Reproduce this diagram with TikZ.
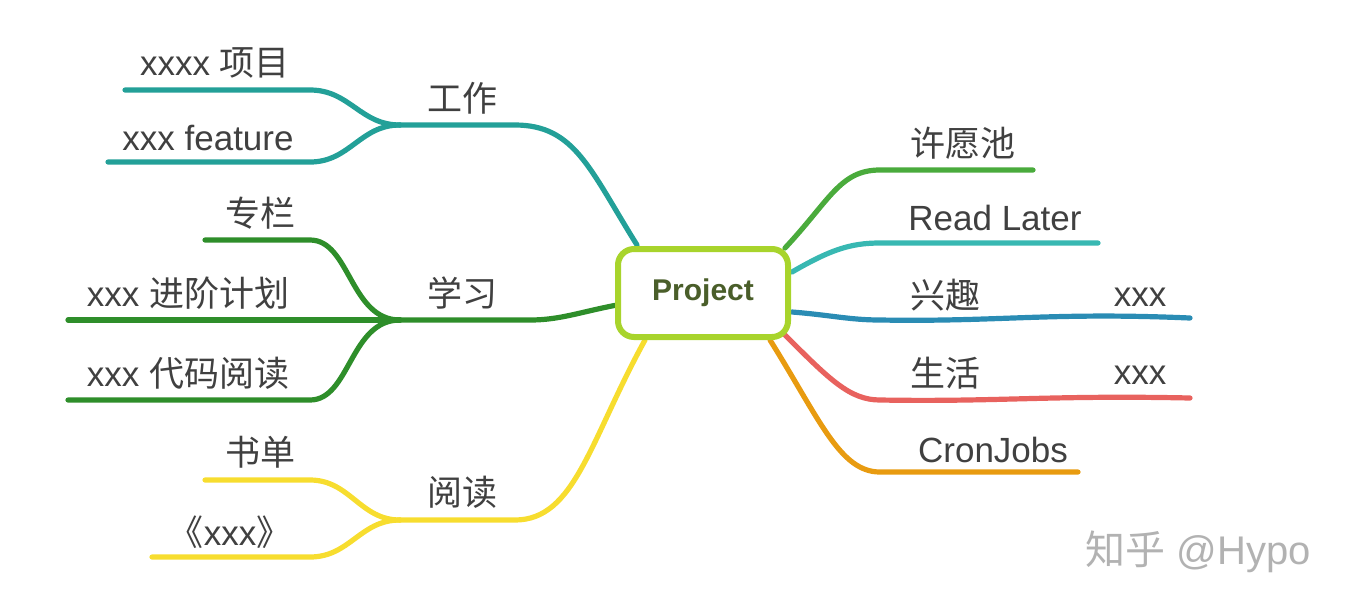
\documentclass[tikz,border=0pt]{standalone}
\usepackage{fontspec}
\setmainfont{Liberation Sans}
\newfontfamily\cjk{Noto Sans CJK SC}
\begin{document}
\begin{tikzpicture}[x=0.5pt,y=-0.5pt,
  br/.style={line width=2.6pt,line cap=round},
  lbl/.style={font=\fontsize{17.5}{20}\selectfont,text=black!75,inner sep=0pt}]
\definecolor{cteal}{HTML}{23A098}
\definecolor{cgreen}{HTML}{2E8E2A}
\definecolor{cyel}{HTML}{F7DD2F}
\definecolor{cg2}{HTML}{4AAB3C}
\definecolor{ct2}{HTML}{38B8B2}
\definecolor{cblue}{HTML}{2A8CB4}
\definecolor{cred}{HTML}{E8625E}
\definecolor{corg}{HTML}{E89B10}
\definecolor{clime}{HTML}{A8D42C}
\definecolor{cproj}{HTML}{4A5E2A}
\useasboundingbox (0,0) rectangle (1348,612);
\coordinate (pTL) at (637,245); \coordinate (pL) at (617,305); \coordinate (pBL) at (645,340);
\coordinate (pR1) at (785,248); \coordinate (pR2) at (792,272); \coordinate (pR3) at (792,312);
\coordinate (pR4) at (785,335); \coordinate (pR5) at (770,340);
\coordinate (w) at (400,125); \coordinate (s) at (400,320); \coordinate (r) at (400,520);
\draw[br,cteal] (pTL) .. controls (590,170) and (575,125) .. (515,125) -- (w);
\draw[br,cteal] (w) .. controls (360,125) and (350,90) .. (310,90) -- (125,90);
\draw[br,cteal] (w) .. controls (360,125) and (350,162) .. (310,162) -- (108,162);
\draw[br,cgreen] (pL) .. controls (580,312) and (560,320) .. (530,320) -- (s);
\draw[br,cgreen] (s) -- (68,320);
\draw[br,cgreen] (s) .. controls (350,320) and (350,240) .. (310,240) -- (205,240);
\draw[br,cgreen] (s) .. controls (350,320) and (350,400) .. (310,400) -- (68,400);
\draw[br,cyel] (pBL) .. controls (590,440) and (575,520) .. (515,520) -- (r);
\draw[br,cyel] (r) .. controls (360,520) and (350,480) .. (310,480) -- (205,480);
\draw[br,cyel] (r) .. controls (360,520) and (350,557) .. (310,557) -- (152,557);
\draw[br,cg2] (pR1) .. controls (830,200) and (840,170) .. (880,170) -- (1033,170);
\draw[br,ct2] (pR2) .. controls (830,250) and (850,243) .. (880,243) -- (1098,243);
\draw[br,cblue] (pR3) .. controls (830,315) and (850,320) .. (880,320) .. controls (1000,322) and (1050,312) .. (1190,318);
\draw[br,cred] (pR4) .. controls (830,380) and (850,400) .. (880,400) .. controls (1000,402) and (1050,395) .. (1190,398);
\draw[br,corg] (pR5) .. controls (820,420) and (840,472) .. (880,472) -- (1078,472);
\node[draw=clime,line width=3pt,rounded corners=8pt,minimum width=85pt,minimum height=44pt,fill=white,
  font=\fontsize{15}{18}\selectfont\bfseries,text=cproj] (proj) at (703,293) {Project};
\node[lbl] (l1) at (462,98) {\cjk 工作};
\node[lbl] (l2) at (215,63) {xxxx {\cjk 项目}};
\node[lbl] (l3) at (208,138) {xxx feature};
\node[lbl] (l4) at (462,293) {\cjk 学习};
\node[lbl] (l5) at (260,213) {\cjk 专栏};
\node[lbl] (l6) at (188,293) {xxx {\cjk 进阶计划}};
\node[lbl] (l7) at (188,373) {xxx {\cjk 代码阅读}};
\node[lbl] (l8) at (462,492) {\cjk 阅读};
\node[lbl] (l9) at (260,452) {\cjk 书单};
\node[lbl] (l10) at (230,532) {{\cjk 《}xxx{\cjk 》}};
\node[lbl] (r1) at (963,143) {\cjk 许愿池};
\node[lbl] (r2) at (995,218) {Read Later};
\node[lbl] (r3) at (945,295) {\cjk 兴趣};
\node[lbl] (r3b) at (1140,297) {xxx};
\node[lbl] (r4) at (945,373) {\cjk 生活};
\node[lbl] (r4b) at (1140,375) {xxx};
\node[lbl] (r5) at (993,450) {CronJobs};
\node[lbl,font=\fontsize{20}{23}\selectfont,text=black!30] (wm) at (1198,552) {{\cjk 知乎} @Hypo};
\end{tikzpicture}
\end{document}
